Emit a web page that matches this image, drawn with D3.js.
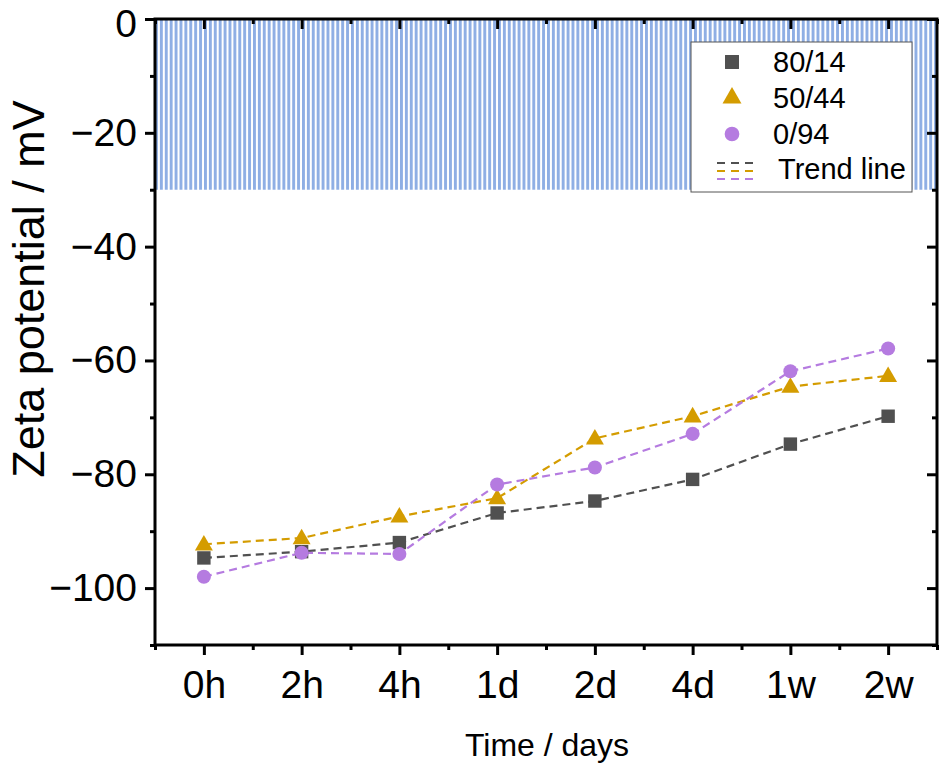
<!DOCTYPE html>
<html>
<head>
<meta charset="utf-8">
<script src="https://cdn.jsdelivr.net/npm/d3@7"></script>
<style>
  body { margin: 0; background: #fff; }
  text { font-family: "Liberation Sans", Arial, sans-serif; }
</style>
</head>
<body>
<script>
// data
const times = ["0h", "2h", "4h", "1d", "2d", "4d", "1w", "2w"];
const s80_14 = [-94.7, -93.6, -92, -86.8, -84.7, -80.9, -74.7, -69.8];
const s50_44 = [-92.3, -91.2, -87.4, -84.2, -73.7, -69.8, -64.6, -62.7];
const s0_94  = [-98, -93.8, -94, -81.8, -78.8, -72.9, -61.9, -57.9];
const yTicks = [0, -20, -40, -60, -80, -100];
const shadeRange = [0, -30];

const series = [
  {name: "80/14", values: s80_14, color: "#505050", shape: d3.symbolSquare, size: 180},
  {name: "50/44", values: s50_44, color: "#d49c00", shape: d3.symbolTriangle, size: 140},
  {name: "0/94",  values: s0_94,  color: "#b57be0", shape: d3.symbolCircle, size: 155}
];

const W = 941, H = 764;
const margin = {top: 19, right: 4, bottom: 119, left: 155};
const width = W - margin.left - margin.right;
const height = H - margin.top - margin.bottom;

const svg = d3.select("body").append("svg")
  .attr("width", W).attr("height", H);

// stripe pattern for the shaded band
const defs = svg.append("defs");
const pat = defs.append("pattern")
  .attr("id", "stripes")
  .attr("patternUnits", "userSpaceOnUse")
  .attr("width", 4.9).attr("height", 10);
pat.append("rect").attr("width", 4.9).attr("height", 10).attr("fill", "#fff");
pat.append("rect").attr("width", 2.9).attr("height", 10).attr("fill", "#8eaee4");

const g = svg.append("g").attr("transform", `translate(${margin.left},${margin.top})`);

const x = d3.scaleLinear().domain([-0.5, times.length - 0.5]).range([0, width]);
const y = d3.scaleLinear().domain([0, -110]).range([0, height]);

g.append("rect")
  .attr("x", 0).attr("y", y(shadeRange[0]))
  .attr("width", width).attr("height", y(shadeRange[1]) - y(shadeRange[0]))
  .attr("fill", "url(#stripes)");

// axes
const idx = d3.range(times.length);
const halfIdx = d3.range(times.length + 1).map(i => i - 0.5);
const minorY = d3.range(-110, 1, 10).filter(v => !yTicks.includes(v));

function styleAxis(sel) {
  sel.select(".domain").remove();
  sel.selectAll(".tick line").attr("stroke", "#000").attr("stroke-width", 3);
  sel.selectAll(".tick text").attr("font-size", 39).attr("fill", "#000")
    .attr("font-family", "Liberation Sans, Arial, sans-serif");
}

const xAxis = g.append("g").attr("transform", `translate(0,${height})`)
  .call(d3.axisBottom(x).tickValues(idx).tickFormat(i => times[i]).tickSize(10).tickPadding(15));
styleAxis(xAxis);
g.append("g").attr("transform", `translate(0,${height})`)
  .call(d3.axisBottom(x).tickValues(halfIdx).tickFormat("").tickSize(5)).call(styleAxis);

const yAxis = g.append("g")
  .call(d3.axisLeft(y).tickValues(yTicks).tickFormat(d => d3.format("d")(d).replace("-", "\u2212")).tickSize(10).tickPadding(8));
styleAxis(yAxis);
// keep the top label inside the page
yAxis.selectAll(".tick text").filter(d => d === 0).attr("dy", "0.45em");
g.append("g").call(d3.axisLeft(y).tickValues(minorY).tickFormat("").tickSize(5)).call(styleAxis);

// mirrored axes, inward ticks
g.append("g").call(d3.axisBottom(x).tickValues(idx).tickFormat("").tickSize(10)).call(styleAxis);
g.append("g").call(d3.axisBottom(x).tickValues(halfIdx).tickFormat("").tickSize(5)).call(styleAxis);
g.append("g").attr("transform", `translate(${width},0)`)
  .call(d3.axisLeft(y).tickValues(yTicks).tickFormat("").tickSize(10)).call(styleAxis);
g.append("g").attr("transform", `translate(${width},0)`)
  .call(d3.axisLeft(y).tickValues(minorY).tickFormat("").tickSize(5)).call(styleAxis);

g.append("rect").attr("x", 0).attr("y", 0).attr("width", width).attr("height", height)
  .attr("fill", "none").attr("stroke", "#000").attr("stroke-width", 3);

// lines and markers
const line = d3.line().x((d, i) => x(i)).y(d => y(d));
series.forEach(s => {
  g.append("path").datum(s.values)
    .attr("fill", "none").attr("stroke", s.color).attr("stroke-width", 2.2)
    .attr("stroke-dasharray", "8,5").attr("d", line);
});
series.forEach(s => {
  g.selectAll(null).data(s.values).enter().append("path")
    .attr("transform", (d, i) => `translate(${x(i)},${y(d) + (s.shape === d3.symbolTriangle ? 1 : 0)})`)
    .attr("d", d3.symbol().type(s.shape).size(s.size))
    .attr("fill", s.color);
});

// legend
const lg = svg.append("g").attr("transform", "translate(691,42)");
lg.append("rect").attr("width", 221).attr("height", 150)
  .attr("fill", "#fff").attr("stroke", "#555").attr("stroke-width", 1);
series.forEach((s, i) => {
  const cy = 20 + i * 36;
  lg.append("path").attr("transform", `translate(41,${cy})`)
    .attr("d", d3.symbol().type(s.shape).size(s.size + 15)).attr("fill", s.color);
  lg.append("text").attr("x", 82).attr("y", cy).attr("dy", "0.36em")
    .attr("font-size", 29).text(s.name);
});
series.forEach((s, i) => {
  lg.append("line").attr("x1", 26).attr("x2", 66)
    .attr("y1", 121 + i * 8).attr("y2", 121 + i * 8)
    .attr("stroke", s.color).attr("stroke-width", 2).attr("stroke-dasharray", "8,6");
});
lg.append("text").attr("x", 87).attr("y", 127).attr("dy", "0.36em")
  .attr("font-size", 29).text("Trend line");

// axis titles
svg.append("text")
  .attr("transform", "translate(44,289) rotate(-90)")
  .attr("text-anchor", "middle").attr("font-size", 45).text("Zeta potential / mV");
svg.append("text")
  .attr("x", 547).attr("y", 756).attr("text-anchor", "middle")
  .attr("font-size", 32).text("Time / days");
</script>
</body>
</html>
